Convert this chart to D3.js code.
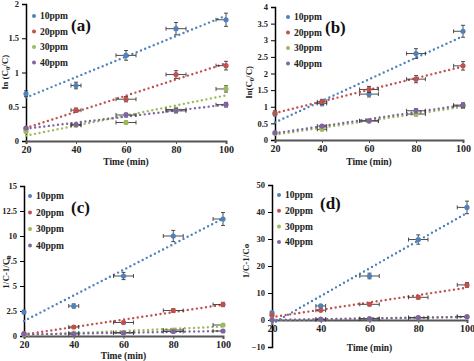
<!DOCTYPE html>
<html>
<head>
<meta charset="utf-8">
<script src="https://cdn.jsdelivr.net/npm/d3@7"></script>
<style>
  body { margin: 0; background: #fff; }
  svg text { font-family: "Liberation Serif", "Times New Roman", serif; font-weight: bold; }
</style>
</head>
<body>
<svg id="chart" width="474" height="361"></svg>
<script>
// shared x values and labels
var times = [20, 40, 60, 80, 100];
var seriesNames = ['10ppm', '20ppm', '30ppm', '40ppm'];
var colors = ['#4F81BD', '#C0504D', '#9BBB59', '#8064A2'];
var xErr = [0, 2, 4, 4, 4];

// panel (a) ln(C0/C)
var aVals = [
  [0.69, 0.81, 1.25, 1.64, 1.77],
  [0.18, 0.45, 0.61, 0.97, 1.10],
  [0.14, 0.23, 0.27, 0.46, 0.76],
  [0.19, 0.24, 0.38, 0.44, 0.53]
];
var aTicks = [0, 0.5, 1, 1.5, 2];

// panel (b) ln(C0/C)
var bVals = [
  [0.78, 1.10, 1.38, 2.60, 3.27],
  [0.82, 1.15, 1.52, 1.83, 2.23],
  [0.20, 0.32, 0.58, 0.78, 1.02],
  [0.22, 0.42, 0.57, 0.88, 1.05]
];
var bTicks = [0, 0.5, 1, 1.5, 2, 2.5, 3, 3.5, 4];

// panel (c) 1/C-1/C0
var cVals = [
  [2.4, 3.0, 6.0, 10.0, 11.7],
  [0.25, 0.9, 1.35, 2.55, 3.15],
  [0.15, 0.3, 0.35, 0.6, 1.1],
  [0.2, 0.2, 0.3, 0.45, 0.5]
];
var cTicks = [0, 2.5, 5, 7.5, 10, 12.5, 15];

// panel (d) 1/C-1/C0
var dVals = [
  [2.7, 5.2, 16.3, 29.8, 41.7],
  [1.8, 3.6, 5.8, 8.4, 13.0],
  [0.1, 0.3, 0.5, 0.8, 1.3],
  [0.1, 0.2, 0.4, 0.9, 1.2]
];
var dTicks = [-10, 0, 10, 20, 30, 40, 50];

var svg = d3.select('#chart');

function drawPanel(p) {
  var x = d3.scaleLinear().domain([20, 100]).range(p.xr);
  var y = d3.scaleLinear().domain([p.ticks[0], p.ticks[p.ticks.length - 1]]).range(p.yr);
  var g = svg.append('g');
  var y0 = y(Math.max(0, p.ticks[0]));

  // y axis
  var ya = g.append('g')
    .attr('transform', 'translate(' + p.xr[0] + ',0)')
    .call(d3.axisLeft(y).tickValues(p.ticks).tickSize(4).tickPadding(3).tickFormat(d3.format('')));
  ya.select('.domain').attr('stroke', '#000').attr('stroke-width', 1.5);
  ya.selectAll('.tick line').attr('stroke', '#000');
  ya.selectAll('text').style('font-size', '8.5px').attr('fill', '#222');

  // x axis
  var xa = g.append('g')
    .attr('transform', 'translate(0,' + y0 + ')')
    .call(d3.axisBottom(x).tickValues(times).tickSize(3).tickPadding(2));
  xa.select('.domain').attr('stroke', '#555').attr('stroke-width', 2);
  xa.selectAll('.tick line').attr('stroke', '#555');
  xa.selectAll('text').style('font-size', '10px').attr('fill', '#222');

  g.append('text')
    .attr('x', (p.xr[0] + p.xr[1]) / 2)
    .attr('y', p.xTitleY)
    .attr('text-anchor', 'middle')
    .style('font-size', '9.5px')
    .attr('fill', '#222')
    .text('Time (min)');

  var yt = g.append('text')
    .attr('transform', 'translate(' + p.yTitle[0] + ',' + p.yTitle[1] + ') rotate(-90)')
    .attr('text-anchor', 'middle')
    .style('font-size', '9px')
    .attr('fill', '#222');
  p.yTitleParts.forEach(function (t) {
    yt.append('tspan')
      .attr('dy', t[1] ? 2 : (t[2] ? -2 : 0))
      .style('font-size', t[1] ? '6.5px' : '9px')
      .text(t[0]);
  });

  g.append('text')
    .attr('x', p.label[0]).attr('y', p.label[1])
    .style('font-size', '17px')
    .attr('fill', '#111')
    .text(p.name);

  p.vals.forEach(function (vals, si) {
    var pts = times.map(function (t, i) { return { t: t, v: vals[i], i: i }; });
    // least squares trendline
    var mx = d3.mean(times), my = d3.mean(vals);
    var sxy = d3.sum(pts, function (d) { return (d.t - mx) * (d.v - my); });
    var sxx = d3.sum(times, function (t) { return (t - mx) * (t - mx); });
    var slope = sxy / sxx, icpt = my - slope * mx;
    var line = d3.line()
      .x(function (d) { return x(d); })
      .y(function (d) { return y(icpt + slope * d); });
    g.append('path')
      .datum([20, 100])
      .attr('fill', 'none')
      .attr('stroke', colors[si])
      .attr('stroke-width', 2.4)
      .attr('stroke-linecap', 'round')
      .attr('stroke-dasharray', '0 4.6')
      .attr('d', line);

    var eb = g.append('g').attr('stroke', '#3a3a3a').attr('stroke-width', 0.9);
    pts.forEach(function (d) {
      var ye = Math.abs(d.v) * 0.05 + (y.domain()[1] - y.domain()[0]) * 0.004;
      var cx = x(d.t), cy = y(d.v);
      // vertical error
      eb.append('line').attr('x1', cx).attr('x2', cx).attr('y1', y(d.v - ye)).attr('y2', y(d.v + ye));
      eb.append('line').attr('x1', cx - 2).attr('x2', cx + 2).attr('y1', y(d.v - ye)).attr('y2', y(d.v - ye));
      eb.append('line').attr('x1', cx - 2).attr('x2', cx + 2).attr('y1', y(d.v + ye)).attr('y2', y(d.v + ye));
      // horizontal error, clipped to axis range
      var xe = xErr[d.i];
      if (xe > 0) {
        var l = x(Math.max(20, d.t - xe)), r = x(Math.min(100, d.t + xe));
        eb.append('line').attr('x1', l).attr('x2', r).attr('y1', cy).attr('y2', cy);
        eb.append('line').attr('x1', l).attr('x2', l).attr('y1', cy - 2).attr('y2', cy + 2);
        eb.append('line').attr('x1', r).attr('x2', r).attr('y1', cy - 2).attr('y2', cy + 2);
      }
    });

    g.selectAll(null).data(pts).enter().append('circle')
      .attr('cx', function (d) { return x(d.t); })
      .attr('cy', function (d) { return y(d.v); })
      .attr('r', 2.6)
      .attr('fill', colors[si]);

    // legend
    var ly = p.legend[1] + si * p.legend[2];
    g.append('circle').attr('cx', p.legend[0]).attr('cy', ly).attr('r', 2).attr('fill', colors[si]);
    g.append('text').attr('x', p.legend[0] + 6).attr('y', ly + 3.2)
      .style('font-size', '9.5px').attr('fill', '#222').text(seriesNames[si]);
  });
}

drawPanel({ name: '(a)', vals: aVals, ticks: aTicks, xr: [26, 226], yr: [141, 4],
  xTitleY: 165, yTitle: [8, 72], yTitleParts: [['ln (C', false], ['0', true], ['/C)', false, true]],
  label: [71, 31], legend: [34, 16, 15.5] });
drawPanel({ name: '(b)', vals: bVals, ticks: bTicks, xr: [275, 463], yr: [140, 7],
  xTitleY: 165, yTitle: [252, 82], yTitleParts: [['ln(C', false], ['0', true], ['/C)', false, true]],
  label: [325, 33], legend: [288, 17, 15.5] });
drawPanel({ name: '(c)', vals: cVals, ticks: cTicks, xr: [24, 223], yr: [336, 186],
  xTitleY: 359, yTitle: [8.5, 272], yTitleParts: [['1/C-1/C', false], ['0', true]],
  label: [71, 213], legend: [30, 196, 16.5] });
drawPanel({ name: '(d)', vals: dVals, ticks: dTicks, xr: [272, 467], yr: [347, 185],
  xTitleY: 351, yTitle: [249, 261], yTitleParts: [['1/C-1/Co', false]],
  label: [320, 209], legend: [279, 195, 15.7] });
</script>
</body>
</html>
